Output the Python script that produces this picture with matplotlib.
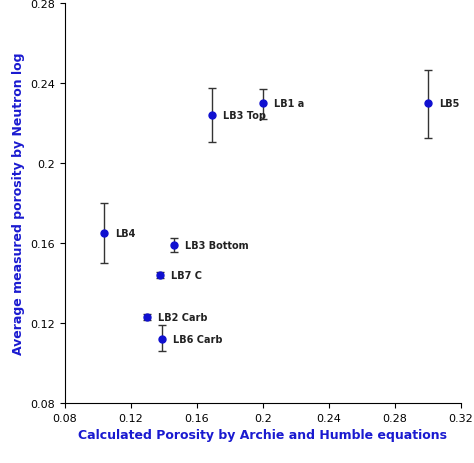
import matplotlib
matplotlib.use("Agg")
import matplotlib.pyplot as plt

labels = ["LB1 a", "LB5", "LB3 Top", "LB4", "LB3 Bottom", "LB7 C", "LB2 Carb", "LB6 Carb"]
calc = [0.2, 0.3, 0.169, 0.1035, 0.146, 0.1375, 0.1297, 0.1388]
meas = [0.23, 0.23, 0.224, 0.165, 0.159, 0.144, 0.123, 0.112]
err_lo = [0.008, 0.0175, 0.0135, 0.015, 0.0035, 0.0015, 0.0015, 0.006]
err_hi = [0.007, 0.0165, 0.0135, 0.015, 0.0035, 0.0015, 0.0015, 0.007]

fig = plt.figure(figsize=(4.74, 4.64), dpi=100)
ax = fig.add_axes([65 / 474, 60 / 464, 396 / 474, 400 / 464])
ax.errorbar(calc, meas, yerr=[err_lo, err_hi], fmt="o", color="#1010d0",
            ecolor="#333333", elinewidth=1, capsize=3, markersize=5)
for x, y, t in zip(calc, meas, labels):
    ax.annotate(t, (x, y), xytext=(8, 0), textcoords="offset points",
                va="center", fontsize=7, fontweight="bold", color="#222222")

ax.set_xlim(0.08, 0.32)
ax.set_ylim(0.08, 0.28)
ax.set_xticks([0.08, 0.12, 0.16, 0.2, 0.24, 0.28, 0.32])
ax.set_xticklabels(["0.08", "0.12", "0.16", "0.2", "0.24", "0.28", "0.32"])
ax.set_yticks([0.08, 0.12, 0.16, 0.2, 0.24, 0.28])
ax.set_yticklabels(["0.08", "0.12", "0.16", "0.2", "0.24", "0.28"])
ax.tick_params(labelsize=8)
ax.spines["top"].set_visible(False)
ax.spines["right"].set_visible(False)
ax.set_xlabel("Calculated Porosity by Archie and Humble equations",
              color="#1a1ad0", fontweight="bold", fontsize=9)
ax.set_ylabel("Average measured porosity by Neutron log",
              color="#1a1ad0", fontweight="bold", fontsize=9)

fig.savefig("out.png", dpi=100)
